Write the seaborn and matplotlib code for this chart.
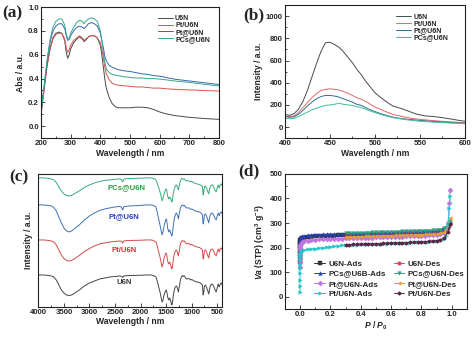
import matplotlib
matplotlib.use("Agg")
import matplotlib.pyplot as plt
from matplotlib.ticker import AutoMinorLocator, MultipleLocator, NullLocator
import pandas as pd
import seaborn as sns

# ---------------- (a) UV-vis absorption ----------------
uv_wavelength = [200, 210, 220, 230, 240, 250, 260, 270, 280, 285, 290, 295, 300, 310,
                 320, 330, 340, 345, 350, 360, 370, 380, 390, 400, 405, 410, 415, 420,
                 430, 440, 450, 460, 480, 500, 520, 540, 560, 580, 600, 620, 650, 700,
                 750, 800]
uv_u6n = [0.10, 0.30, 0.50, 0.65, 0.74, 0.78, 0.79, 0.78, 0.72, 0.62, 0.57, 0.60, 0.65, 0.70,
          0.73, 0.75, 0.73, 0.71, 0.72, 0.75, 0.76, 0.76, 0.74, 0.68, 0.60, 0.50, 0.40, 0.32,
          0.24, 0.19, 0.165, 0.155, 0.155, 0.155, 0.16, 0.16, 0.155, 0.14, 0.12, 0.105, 0.09, 0.075,
          0.065, 0.058]
uv_pt_u6n = [0.10, 0.30, 0.50, 0.64, 0.73, 0.77, 0.78, 0.78, 0.73, 0.66, 0.62, 0.64, 0.68, 0.72,
             0.74, 0.76, 0.74, 0.72, 0.73, 0.75, 0.76, 0.76, 0.74, 0.70, 0.65, 0.58, 0.50, 0.44,
             0.39, 0.36, 0.35, 0.345, 0.34, 0.335, 0.33, 0.33, 0.325, 0.32, 0.32, 0.315, 0.31, 0.305,
             0.30, 0.295]
uv_pt_at_u6n = [0.12, 0.32, 0.53, 0.70, 0.80, 0.84, 0.86, 0.86, 0.82, 0.76, 0.72, 0.73, 0.76, 0.80,
                0.83, 0.84, 0.83, 0.82, 0.83, 0.86, 0.87, 0.86, 0.84, 0.78, 0.72, 0.66, 0.59, 0.55,
                0.51, 0.495, 0.485, 0.475, 0.465, 0.46, 0.45, 0.44, 0.435, 0.425, 0.42, 0.41, 0.395, 0.38,
                0.365, 0.35]
uv_pcs_u6n = [0.12, 0.33, 0.55, 0.72, 0.83, 0.88, 0.90, 0.90, 0.85, 0.78, 0.73, 0.74, 0.78, 0.83,
              0.87, 0.89, 0.88, 0.86, 0.88, 0.90, 0.91, 0.90, 0.88, 0.80, 0.72, 0.62, 0.54, 0.48,
              0.45, 0.435, 0.43, 0.425, 0.415, 0.41, 0.405, 0.405, 0.40, 0.40, 0.395, 0.39, 0.38, 0.368,
              0.352, 0.338]

# ---------------- (b) photoluminescence ----------------
pl_wavelength = [400, 405, 410, 415, 420, 425, 430, 435, 440, 445, 450, 455, 460, 465, 470,
                 475, 480, 485, 490, 495, 500, 505, 510, 515, 520, 525, 530, 535, 540, 545,
                 550, 555, 560, 565, 570, 575, 580, 585, 590, 595, 600]
pl_u6n = [115, 105, 120, 160, 230, 330, 450, 570, 680, 760, 765, 745, 720, 680, 630,
          580, 520, 470, 410, 360, 310, 275, 245, 215, 190, 178, 165, 150, 135, 120,
          110, 102, 98, 95, 90, 85, 78, 72, 65, 58, 52]
pl_pt_u6n = [100, 95, 100, 130, 175, 220, 265, 300, 330, 340, 345, 340, 335, 320, 305,
             285, 265, 250, 230, 205, 180, 165, 145, 130, 115, 105, 95, 88, 80, 75,
             70, 66, 62, 58, 55, 52, 50, 47, 44, 41, 38]
pl_pt_at_u6n = [95, 88, 92, 115, 150, 190, 225, 255, 275, 285, 285, 280, 270, 255, 240,
                225, 205, 195, 175, 155, 140, 125, 112, 100, 90, 82, 76, 72, 68, 64,
                60, 57, 54, 51, 48, 45, 43, 40, 38, 36, 34]
pl_pcs_u6n = [80, 75, 78, 95, 115, 135, 155, 170, 185, 195, 200, 205, 215, 205, 200,
              195, 185, 175, 160, 145, 130, 118, 105, 95, 85, 78, 72, 66, 61, 57,
              53, 50, 47, 44, 42, 40, 38, 36, 34, 32, 30]

# ---------------- (c) FT-IR (relative transmittance, baseline 0) ----------------
ir_wavenumber = [4000, 3900, 3800, 3750, 3700, 3650, 3600, 3550, 3500, 3450,
                 3400, 3350, 3300, 3200, 3100, 3000, 2900, 2800, 2700, 2600,
                 2500, 2400, 2370, 2350, 2330, 2300, 2200, 2000, 1900, 1800,
                 1750, 1700, 1680, 1650, 1620, 1600, 1580, 1565, 1540, 1520,
                 1500, 1490, 1470, 1450, 1430, 1410, 1390, 1380, 1360, 1340,
                 1320, 1300, 1280, 1260, 1240, 1220, 1200, 1180, 1160, 1140,
                 1120, 1100, 1050, 1020, 1000, 950, 900, 850, 820, 790,
                 775, 765, 750, 730, 710, 690, 665, 650, 630, 600,
                 570, 550, 520, 500, 480, 460, 440, 420, 400]
ir_u6n = [0, 0, -0.5, -1, -2, -5, -10, -15, -18, -20,
          -20.5, -20, -18.5, -15, -11, -8, -6, -4, -3, -2,
          -1.5, -1, -1.5, -2.5, -1, -0.8, -0.5, -0.3, 0, 0,
          -0.5, -2, -5, -11, -17, -22, -27, -26, -20, -17,
          -15, -16, -22, -25, -23, -26, -30, -29, -21, -15,
          -12, -11, -13, -17, -11, -5, -2, -0.5, -1.5, -1,
          -3, -4, -3.5, -5, -4.5, -6, -7, -7.5, -8.5, -10,
          -20, -18, -11, -10, -12, -15, -19, -14, -10, -9,
          -11, -14, -17, -13, -9, -12, -9, -8, -10]
ir_pt_u6n = [0, 0, -0.5, -1, -2, -5, -10, -15, -18.5, -20.5,
             -21, -20.5, -19, -15.5, -11.5, -8.5, -6, -4, -3, -2,
             -1.5, -1, -1.5, -3, -1, -0.8, -0.5, -0.3, 0, 0,
             -0.5, -2, -5, -11, -17, -22, -27, -25, -18, -15,
             -13, -14, -21, -24, -22, -25, -29, -28, -20, -14,
             -11, -10, -12, -16, -10, -4, -1.5, -0.5, -1.5, -1,
             -3, -4, -3.5, -5, -4.5, -6, -7, -7.5, -8.5, -10,
             -19, -17, -11, -10, -12, -15, -18, -13, -10, -9,
             -11, -14, -16, -12, -9, -12, -9, -8, -10]
ir_pt_at_u6n = [0, 0, -0.5, -1, -2.5, -6, -12, -18, -23, -26,
                -27, -26, -24, -20, -15, -11, -8, -5.5, -4, -3,
                -2, -1.5, -2.5, -5, -2, -1.5, -1, -0.5, 0, 0,
                -0.5, -2, -6, -13, -20, -25, -30, -28, -21, -17,
                -14, -15, -23, -27, -25, -28, -31, -30, -21, -14,
                -10, -8, -10, -14, -8, -3, -1, 0, -1, -0.5,
                -2, -3, -3, -4.5, -4, -5.5, -6.5, -7, -8, -9.5,
                -19, -17, -10, -9, -11, -14, -18, -13, -9, -8,
                -10, -13, -15, -11, -8, -11, -8, -7, -9]
ir_pcs_u6n = [0, 0, -0.5, -1, -2, -4.5, -9, -13, -16, -17.5,
              -18, -17.5, -16, -13, -9.5, -7, -5, -3.5, -2.5, -2,
              -1.5, -1, -2, -4, -1.5, -1, -0.5, -0.3, 0, 0,
              -0.5, -2, -4.5, -9, -14, -18, -23, -21, -16, -13,
              -11, -12, -18, -21, -19, -21, -24, -23, -16, -11,
              -8, -7, -9, -12, -7, -3, -1, -0.5, -1.5, -1,
              -2.5, -3, -3, -4, -3.5, -5, -6, -6.5, -7.5, -8.5,
              -17, -15, -9, -8, -10, -13, -16, -11, -8, -7,
              -9, -12, -14, -10, -7, -10, -7, -6, -8]

# ---------------- (d) N2 sorption isotherms ----------------
p_ads = [0.00001, 0.00003, 0.00006, 0.0001, 0.0002, 0.0004, 0.0008, 0.0015, 0.003, 0.006,
         0.012, 0.025, 0.05, 0.075,
         0.1, 0.125, 0.15, 0.175, 0.2, 0.225, 0.25, 0.275, 0.3, 0.325,
         0.35, 0.375, 0.4, 0.425, 0.45, 0.475, 0.5, 0.525, 0.55, 0.575,
         0.6, 0.625, 0.65, 0.675, 0.7, 0.725, 0.75, 0.775, 0.8, 0.825,
         0.85, 0.875, 0.9, 0.925, 0.95,
         0.965, 0.975, 0.985, 0.99]
p_des = [0.99, 0.975, 0.95, 0.925, 0.9, 0.875, 0.85, 0.825, 0.8, 0.775,
         0.75, 0.725, 0.7, 0.675, 0.65, 0.625, 0.6, 0.575, 0.55, 0.525,
         0.5, 0.475, 0.45, 0.425, 0.4, 0.375, 0.35, 0.325, 0.3]

u6n_ads = [140, 160, 175, 187, 198, 208, 216, 223, 229, 234, 238, 241, 243, 245,
           246, 247, 248, 248, 249, 249, 250, 250, 251, 251,
           252, 252, 253, 253, 254, 254, 255, 255, 256, 256,
           257, 257, 258, 258, 259, 259, 260, 260, 261, 262,
           263, 264, 265, 267, 270,
           274, 280, 288, 295]
u6n_des = [295, 282, 272, 268, 266, 265, 264, 263, 263, 262,
           262, 261, 261, 260, 260, 259, 259, 258, 258, 257,
           257, 256, 256, 255, 255, 254, 254, 253, 253]
pcs_ads = [170, 185, 196, 205, 213, 221, 228, 234, 239, 243, 246, 248, 250, 251,
           252, 253, 254, 254, 255, 255, 256, 256, 257, 257,
           258, 258, 259, 259, 260, 260, 261, 261, 262, 262,
           263, 263, 264, 264, 265, 265, 266, 266, 267, 268,
           269, 270, 271, 273, 276,
           282, 290, 300, 308]
pcs_des = [305, 290, 278, 273, 271, 270, 269, 269, 268, 268,
           267, 267, 266, 266, 265, 265, 264, 264, 263, 263,
           262, 262, 261, 261, 260, 260, 259, 259, 258]
pt_at_ads = [120, 140, 155, 168, 180, 190, 198, 205, 211, 216, 221, 225, 228, 230,
             232, 233, 234, 235, 236, 236, 237, 237, 238, 238,
             239, 239, 240, 240, 241, 241, 242, 242, 243, 243,
             244, 244, 245, 245, 246, 246, 247, 247, 248, 249,
             250, 251, 252, 254, 258,
             268, 300, 380, 435]
pt_at_des = [320, 290, 262, 258, 256, 255, 254, 254, 253, 253,
             252, 252, 251, 251, 250, 250, 249, 249, 248, 248,
             247, 247, 246, 246, 245, 245, 244, 244, 243]
pt_on_ads = [20, 45, 70, 95, 115, 135, 152, 165, 175, 182, 187, 190, 193, 195,
             196, 198, 200, 202, 203, 205, 207, 209, 211, 211,
             212, 212, 213, 213, 214, 214, 215, 215, 216, 216,
             217, 218, 218, 219, 219, 220, 221, 221, 222, 223,
             224, 225, 227, 231, 236,
             248, 290, 360, 410]
pt_on_des = [295, 262, 238, 232, 228, 226, 225, 224, 223, 222,
             222, 221, 220, 220, 219, 219, 218, 217, 217, 216,
             216, 215, 215, 214, 214, 213, 213, 212, 212]

sample_names = ["U6N", "Pt/U6N", "Pt@U6N", "PCs@U6N"]

# ---------------- style ----------------
sns.set_style("ticks")
plt.rcParams["font.family"] = ["Liberation Sans", "DejaVu Sans"]
plt.rcParams["font.weight"] = "bold"
plt.rcParams["axes.labelweight"] = "bold"
plt.rcParams["mathtext.fontset"] = "custom"
plt.rcParams["mathtext.rm"] = "Liberation Sans:bold"
plt.rcParams["mathtext.it"] = "Liberation Sans:italic:bold"
plt.rcParams["mathtext.bf"] = "Liberation Sans:bold"

TICK_FS = 5.6
LABEL_FS = 6.2
LW = 0.7


def style_axes(ax, minor_x=True, minor_y=True, hide_y=False):
    for sp in ax.spines.values():
        sp.set_linewidth(0.8)
        sp.set_color("#222222")
    ax.tick_params(which="both", direction="in", width=0.6, labelsize=TICK_FS,
                   top=False, right=False, pad=1.5)
    ax.tick_params(which="major", length=2.6)
    ax.tick_params(which="minor", length=1.5)
    if minor_x:
        ax.xaxis.set_minor_locator(AutoMinorLocator(2))
    if minor_y:
        ax.yaxis.set_minor_locator(AutoMinorLocator(2))
    for lab in ax.get_xticklabels() + ax.get_yticklabels():
        lab.set_fontweight("bold")
    if hide_y:
        ax.yaxis.set_major_locator(NullLocator())
        ax.yaxis.set_minor_locator(NullLocator())


fig = plt.figure(figsize=(4.74, 3.37), dpi=100)
fig.patch.set_facecolor("white")

ax_a = fig.add_axes([0.0865, 0.590, 0.3755, 0.389])
ax_b = fig.add_axes([0.601, 0.590, 0.380, 0.395])
ax_c = fig.add_axes([0.081, 0.089, 0.388, 0.395])
ax_d = fig.add_axes([0.601, 0.083, 0.384, 0.401])

# ---- (a) ----
uv_colors = ["#4a4a4a", "#d9534f", "#3a64b2", "#36a98c"]
for name, vals, col in zip(sample_names, [uv_u6n, uv_pt_u6n, uv_pt_at_u6n, uv_pcs_u6n], uv_colors):
    sns.lineplot(x=uv_wavelength, y=vals, ax=ax_a, color=col, lw=LW, label=name,
                 estimator=None, sort=False)
ax_a.set_xlim(200, 800)
ax_a.set_ylim(-0.1, 1.0)
ax_a.xaxis.set_major_locator(MultipleLocator(100))
ax_a.yaxis.set_major_locator(MultipleLocator(0.2))
ax_a.set_xlabel("Wavelength / nm", fontsize=LABEL_FS, labelpad=1)
ax_a.set_ylabel("Abs / a.u.", fontsize=LABEL_FS, labelpad=2)
style_axes(ax_a)
ax_a.legend(loc="upper right", bbox_to_anchor=(0.965, 0.96), frameon=False,
            fontsize=5.1, handlelength=2.1, handletextpad=0.35, labelspacing=-0.02,
            borderaxespad=0)

# ---- (b) ----
pl_colors = ["#4a4a4a", "#e06868", "#2f6f8f", "#3dbf9c"]
for name, vals, col in zip(sample_names, [pl_u6n, pl_pt_u6n, pl_pt_at_u6n, pl_pcs_u6n], pl_colors):
    sns.lineplot(x=pl_wavelength, y=vals, ax=ax_b, color=col, lw=LW, label=name,
                 estimator=None, sort=False)
ax_b.set_xlim(400, 600)
ax_b.set_ylim(-100, 1100)
ax_b.xaxis.set_major_locator(MultipleLocator(50))
ax_b.yaxis.set_major_locator(MultipleLocator(200))
ax_b.set_xlabel("Wavelength / nm", fontsize=LABEL_FS, labelpad=1)
ax_b.set_ylabel("Intensity / a.u.", fontsize=LABEL_FS, labelpad=2)
style_axes(ax_b)
ax_b.legend(loc="upper right", bbox_to_anchor=(0.925, 0.955), frameon=False,
            fontsize=5.1, handlelength=2.1, handletextpad=0.35, labelspacing=-0.02,
            borderaxespad=0)

# ---- (c) ----
ir_colors = ["#454545", "#d24a4a", "#3f72b5", "#3aa878"]
ir_text_colors = ["#3a3a3a", "#d43030", "#2a3fc0", "#2f9e3e"]
ir_offsets = [32, 67, 102, 129]
ir_label_pos = [(2330, 24), (2330, 56), (2330, 90), (2270, 119)]
for name, vals, col, off, tcol, (tx, ty) in zip(
        sample_names, [ir_u6n, ir_pt_u6n, ir_pt_at_u6n, ir_pcs_u6n],
        ir_colors, ir_offsets, ir_text_colors, ir_label_pos):
    df = pd.DataFrame({"wn": ir_wavenumber, "t": [v + off for v in vals]})
    sns.lineplot(data=df, x="wn", y="t", ax=ax_c, color=col, lw=LW,
                 estimator=None, sort=False)
    ax_c.text(tx, ty, name, color=tcol, fontsize=5.6, fontweight="bold",
              ha="center", va="center")
ax_c.set_xlim(4000, 400)
ax_c.set_ylim(0, 133)
ax_c.xaxis.set_major_locator(MultipleLocator(500))
ax_c.set_xlabel("Wavelength / nm", fontsize=LABEL_FS, labelpad=1)
ax_c.set_ylabel("Intensity / a.u.", fontsize=LABEL_FS, labelpad=4)
style_axes(ax_c, hide_y=True)

# ---- (d) ----
iso_series = [
    ("U6N-Ads", p_ads, u6n_ads, "#333333", "s"),
    ("U6N-Des", p_des, u6n_des, "#e0405a", "o"),
    ("PCs@U6B-Ads", p_ads, pcs_ads, "#2440b0", "^"),
    ("PCs@U6N-Des", p_des, pcs_des, "#2fa080", "v"),
    ("Pt@U6N-Ads", p_ads, pt_at_ads, "#c074e0", "D"),
    ("Pt@U6N-Des", p_des, pt_at_des, "#e0a030", "<"),
    ("Pt/U6N-Ads", p_ads, pt_on_ads, "#22c6c6", ">"),
    ("Pt/U6N-Des", p_des, pt_on_des, "#5a2444", "h"),
]
for name, px, py, col, mk in iso_series:
    sns.lineplot(x=px, y=py, ax=ax_d, color=col, lw=LW, label=name, marker=mk,
                 markersize=2.6, markeredgecolor=col, markeredgewidth=0.3,
                 estimator=None, sort=False)
ax_d.set_xlim(-0.1, 1.1)
ax_d.set_ylim(-50, 500)
ax_d.xaxis.set_major_locator(MultipleLocator(0.2))
ax_d.yaxis.set_major_locator(MultipleLocator(100))
ax_d.set_xlabel(r"$P$ / $P_0$", fontsize=LABEL_FS, labelpad=1)
ax_d.set_ylabel(r"$Va$ (STP) (cm$^3$ g$^{-1}$)", fontsize=LABEL_FS, labelpad=2)
style_axes(ax_d)
handles, labels = ax_d.get_legend_handles_labels()
order = [0, 2, 4, 6, 1, 3, 5, 7]
ax_d.legend([handles[i] for i in order], [labels[i] for i in order],
            loc="lower left", bbox_to_anchor=(0.145, 0.06), ncol=2, frameon=False,
            fontsize=5.8, handlelength=1.3, handletextpad=0.4, labelspacing=0.3,
            columnspacing=1.0, borderaxespad=0)

# panel letters
for letter, (x, y) in zip(["(a)", "(b)", "(c)", "(d)"],
                          [(0.004, 0.961), (0.513, 0.955), (0.020, 0.475), (0.503, 0.490)]):
    fig.text(x, y, letter, fontsize=12.5, fontweight="bold",
             family=["Liberation Serif", "DejaVu Serif"], ha="left", va="center")

fig.savefig("out.png", dpi=100, facecolor="white")
